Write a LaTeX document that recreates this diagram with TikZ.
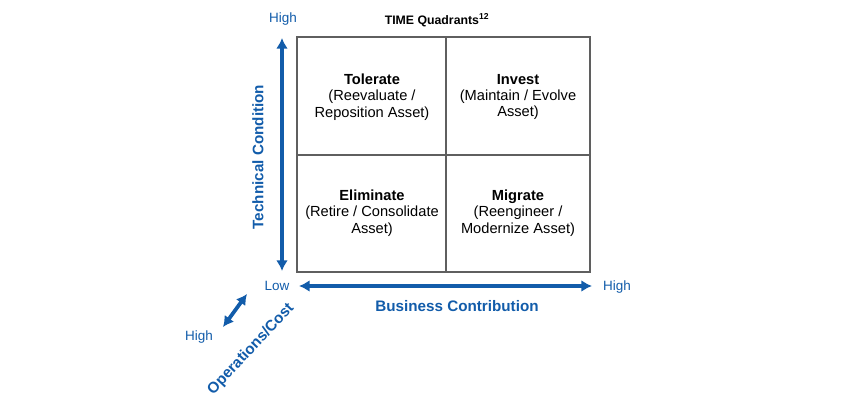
\documentclass[tikz,border=0pt]{standalone}
\usepackage{fontspec}
\setmainfont{Liberation Sans}
\usetikzlibrary{arrows.meta}
\definecolor{axisblue}{RGB}{18,92,170}
\definecolor{gridgray}{RGB}{95,95,95}
\tikzset{
  axis/.style={axisblue, line width=3.2pt, {Latex[length=9pt,width=10pt]}-{Latex[length=9pt,width=10pt]}},
  cell/.style={align=center, font=\fontsize{12.5}{14}\selectfont},
  axislabel/.style={axisblue, font=\fontsize{11.5}{13}\selectfont},
  axistitle/.style={axisblue, font=\bfseries\fontsize{13}{15}\selectfont}
}
\begin{document}
\begin{tikzpicture}[x=0.03cm, y=-0.03cm]
    \useasboundingbox (0,0) rectangle (860,400);

    % Quadrants
    \draw[gridgray, line width=1.8pt] (297,37) rectangle (590,272);
    \draw[gridgray, line width=1.8pt] (446,37) -- (446,272);
    \draw[gridgray, line width=1.8pt] (297,155) -- (590,155);

    % Texte der Felder
    \node[cell] (tolerate) at (372,97) {\textbf{Tolerate}\\(Reevaluate /\\Reposition Asset)};
    \node[cell] (invest) at (518,97) {\textbf{Invest}\\(Maintain / Evolve\\Asset)};
    \node[cell] (eliminate) at (372,213) {\textbf{Eliminate}\\(Retire / Consolidate\\Asset)};
    \node[cell] (migrate) at (518,213) {\textbf{Migrate}\\(Reengineer /\\Modernize Asset)};

    % Titel
    \node[font=\bfseries\fontsize{10.5}{12}\selectfont] (title) at (437,20) {TIME Quadrants\textsuperscript{12}};

    % Achsen
    \coordinate (vtop) at (282,38);
    \coordinate (vbot) at (282,271);
    \coordinate (hleft) at (299,286);
    \coordinate (hright) at (592,286);
    \coordinate (dtop) at (247,294);
    \coordinate (dbot) at (223,327);
    \draw[axis] (vtop) -- (vbot);
    \draw[axis] (hleft) -- (hright);
    \draw[axis] (dtop) -- (dbot);

    % Beschriftungen
    \node[axislabel] (vhigh) at (283,19) {High};
    \node[axislabel] (low) at (277,286) {Low};
    \node[axislabel] (hhigh) at (617,287) {High};
    \node[axislabel] (dhigh) at (199,337) {High};
    \node[axistitle, rotate=90] (tech) at (258,157) {Technical Condition};
    \node[axistitle] (business) at (457,306) {Business Contribution};
    \node[axistitle, rotate=47] (ops) at (251,349) {Operations/Cost};
\end{tikzpicture}
\end{document}
